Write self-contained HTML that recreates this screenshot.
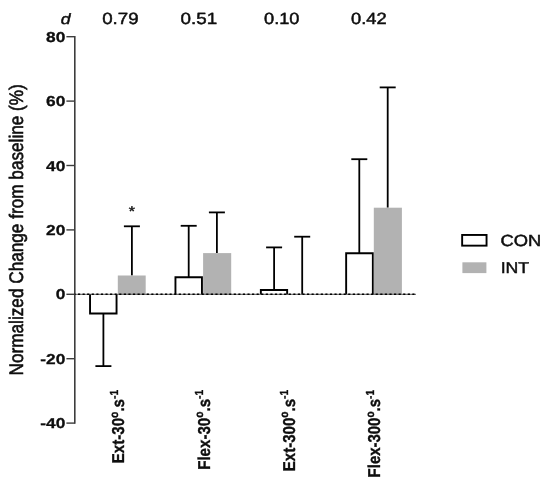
<!DOCTYPE html>
<html lang="en"><head><meta charset="utf-8"><title>Normalized Change from baseline</title>
<style>
html,body{margin:0;padding:0;background:#fff;}
body{width:550px;height:487px;overflow:hidden;}
svg{display:block;}
svg text{font-family:"Liberation Sans",Arial,Helvetica,sans-serif;white-space:pre;}
</style></head><body>
<svg width="550" height="487" viewBox="0 0 550 487" font-family="Liberation Sans, Arial, Helvetica, sans-serif">
<defs><filter id="soft" x="0" y="0" width="550" height="487" filterUnits="userSpaceOnUse"><feGaussianBlur stdDeviation="0.4"/></filter></defs>
<rect width="550" height="487" fill="#fff"/>
<g filter="url(#soft)">
<g shape-rendering="geometricPrecision">
<line x1="74.8" y1="36.10" x2="74.8" y2="423.70" stroke="#3c3c3c" stroke-width="1.6"/>
<line x1="66.4" y1="36.70" x2="74.8" y2="36.70" stroke="#3c3c3c" stroke-width="1.4"/>
<line x1="66.4" y1="101.10" x2="74.8" y2="101.10" stroke="#3c3c3c" stroke-width="1.4"/>
<line x1="66.4" y1="165.50" x2="74.8" y2="165.50" stroke="#3c3c3c" stroke-width="1.4"/>
<line x1="66.4" y1="229.90" x2="74.8" y2="229.90" stroke="#3c3c3c" stroke-width="1.4"/>
<line x1="66.4" y1="294.30" x2="74.8" y2="294.30" stroke="#3c3c3c" stroke-width="1.4"/>
<line x1="66.4" y1="358.70" x2="74.8" y2="358.70" stroke="#3c3c3c" stroke-width="1.4"/>
<line x1="66.4" y1="423.10" x2="74.8" y2="423.10" stroke="#3c3c3c" stroke-width="1.4"/>
<line x1="103.4" y1="313.5" x2="103.4" y2="366.09999999999997" stroke="#000" stroke-width="1.8"/>
<line x1="95.40" y1="366.09999999999997" x2="111.40" y2="366.09999999999997" stroke="#000" stroke-width="1.8"/>
<line x1="131.9" y1="275.5" x2="131.9" y2="226.29999999999998" stroke="#000" stroke-width="1.8"/>
<line x1="123.90" y1="226.29999999999998" x2="139.90" y2="226.29999999999998" stroke="#000" stroke-width="1.8"/>
<path d="M90.05 294.3 V313.50 H116.55 V294.3" fill="#fff" stroke="#000" stroke-width="1.9" stroke-linejoin="miter"/>
<rect x="117.8" y="275.5" width="27.90" height="18.80" fill="#b2b2b2"/>
<line x1="188.7" y1="277.2" x2="188.7" y2="225.79999999999998" stroke="#000" stroke-width="1.8"/>
<line x1="180.70" y1="225.79999999999998" x2="196.70" y2="225.79999999999998" stroke="#000" stroke-width="1.8"/>
<line x1="216.9" y1="253.1" x2="216.9" y2="212.39999999999998" stroke="#000" stroke-width="1.8"/>
<line x1="208.90" y1="212.39999999999998" x2="224.90" y2="212.39999999999998" stroke="#000" stroke-width="1.8"/>
<path d="M175.45 294.3 V277.20 H201.95 V294.3" fill="#fff" stroke="#000" stroke-width="1.9" stroke-linejoin="miter"/>
<rect x="203.1" y="253.1" width="28.10" height="41.20" fill="#b2b2b2"/>
<line x1="274.1" y1="290.0" x2="274.1" y2="247.39999999999998" stroke="#000" stroke-width="1.8"/>
<line x1="266.10" y1="247.39999999999998" x2="282.10" y2="247.39999999999998" stroke="#000" stroke-width="1.8"/>
<line x1="302.2" y1="294.3" x2="302.2" y2="236.7" stroke="#000" stroke-width="1.8"/>
<line x1="294.20" y1="236.7" x2="310.20" y2="236.7" stroke="#000" stroke-width="1.8"/>
<path d="M260.85 294.3 V290.00 H287.15 V294.3" fill="#fff" stroke="#000" stroke-width="1.9" stroke-linejoin="miter"/>
<line x1="359.3" y1="253.3" x2="359.3" y2="159.2" stroke="#000" stroke-width="1.8"/>
<line x1="351.30" y1="159.2" x2="367.30" y2="159.2" stroke="#000" stroke-width="1.8"/>
<line x1="387.7" y1="207.7" x2="387.7" y2="87.4" stroke="#000" stroke-width="1.8"/>
<line x1="379.70" y1="87.4" x2="395.70" y2="87.4" stroke="#000" stroke-width="1.8"/>
<path d="M346.15 294.3 V253.30 H372.85 V294.3" fill="#fff" stroke="#000" stroke-width="1.9" stroke-linejoin="miter"/>
<rect x="373.8" y="207.7" width="28.10" height="86.60" fill="#b2b2b2"/>
<line x1="74.8" y1="294.3" x2="416" y2="294.3" stroke="#444" stroke-width="0.9"/>
<line x1="74.8" y1="294.3" x2="416" y2="294.3" stroke="#000" stroke-width="1.6" stroke-dasharray="2.2 2.38" stroke-dashoffset="1.4"/>
<rect x="462.15" y="234.95" width="24.40" height="10.70" fill="#fff" stroke="#000" stroke-width="1.9"/>
<rect x="462.4" y="262.3" width="24.00" height="10.80" fill="#b2b2b2"/>
</g>
<g text-rendering="geometricPrecision">
<text transform="matrix(1.1028 0 0 0.9210 60.72 24.41)" font-size="16" font-style="italic" font-weight="normal" fill="#0a0a0a" stroke="#0a0a0a" stroke-width="0.45">d</text>
<text transform="matrix(1.1695 0 0 1.0128 102.20 23.79)" font-size="16" font-style="normal" font-weight="normal" fill="#0a0a0a" stroke="#0a0a0a" stroke-width="0.45">0.79</text>
<text transform="matrix(1.1750 0 0 1.0128 180.50 23.79)" font-size="16" font-style="normal" font-weight="normal" fill="#0a0a0a" stroke="#0a0a0a" stroke-width="0.45">0.51</text>
<text transform="matrix(1.1365 0 0 1.0128 264.02 23.79)" font-size="16" font-style="normal" font-weight="normal" fill="#0a0a0a" stroke="#0a0a0a" stroke-width="0.45">0.10</text>
<text transform="matrix(1.1426 0 0 1.0128 351.02 23.79)" font-size="16" font-style="normal" font-weight="normal" fill="#0a0a0a" stroke="#0a0a0a" stroke-width="0.45">0.42</text>
<text transform="matrix(1.0813 0 0 0.8952 46.05 41.84)" font-size="16" font-style="normal" font-weight="bold" fill="#0a0a0a" stroke="#0a0a0a" stroke-width="0.3">80</text>
<text transform="matrix(1.0813 0 0 0.8952 46.05 106.24)" font-size="16" font-style="normal" font-weight="bold" fill="#0a0a0a" stroke="#0a0a0a" stroke-width="0.3">60</text>
<text transform="matrix(1.0813 0 0 0.8952 46.05 170.64)" font-size="16" font-style="normal" font-weight="bold" fill="#0a0a0a" stroke="#0a0a0a" stroke-width="0.3">40</text>
<text transform="matrix(1.0813 0 0 0.8952 46.05 235.04)" font-size="16" font-style="normal" font-weight="bold" fill="#0a0a0a" stroke="#0a0a0a" stroke-width="0.3">20</text>
<text transform="matrix(1.0813 0 0 0.8952 55.74 299.44)" font-size="16" font-style="normal" font-weight="bold" fill="#0a0a0a" stroke="#0a0a0a" stroke-width="0.3">0</text>
<text transform="matrix(1.0813 0 0 0.8952 40.35 363.84)" font-size="16" font-style="normal" font-weight="bold" fill="#0a0a0a" stroke="#0a0a0a" stroke-width="0.3">-20</text>
<text transform="matrix(1.0813 0 0 0.8952 40.35 428.24)" font-size="16" font-style="normal" font-weight="bold" fill="#0a0a0a" stroke="#0a0a0a" stroke-width="0.3">-40</text>
<text transform="matrix(0 -1.0738 1.2250 0 23.40 375.43)" font-size="16" font-weight="normal" fill="#0a0a0a" stroke="#0a0a0a" stroke-width="0.45">Normalized Change from baseline (%)</text>
<text transform="matrix(0 -0.9430 1.0750 0 124.10 463.19)" font-size="16" font-weight="bold" fill="#0a0a0a" stroke="#0a0a0a" stroke-width="0.3">Ext-30<tspan dy="-5.92" font-size="10.88">o</tspan><tspan dy="5.92">.s</tspan><tspan dy="-5.92" font-size="10.88">-1</tspan></text>
<text transform="matrix(0 -0.9425 1.0750 0 209.60 469.79)" font-size="16" font-weight="bold" fill="#0a0a0a" stroke="#0a0a0a" stroke-width="0.3">Flex-30<tspan dy="-5.92" font-size="10.88">o</tspan><tspan dy="5.92">.s</tspan><tspan dy="-5.92" font-size="10.88">-1</tspan></text>
<text transform="matrix(0 -0.9395 1.0750 0 294.80 471.19)" font-size="16" font-weight="bold" fill="#0a0a0a" stroke="#0a0a0a" stroke-width="0.3">Ext-300<tspan dy="-5.92" font-size="10.88">o</tspan><tspan dy="5.92">.s</tspan><tspan dy="-5.92" font-size="10.88">-1</tspan></text>
<text transform="matrix(0 -0.9334 1.0750 0 380.30 477.38)" font-size="16" font-weight="bold" fill="#0a0a0a" stroke="#0a0a0a" stroke-width="0.3">Flex-300<tspan dy="-5.92" font-size="10.88">o</tspan><tspan dy="5.92">.s</tspan><tspan dy="-5.92" font-size="10.88">-1</tspan></text>
<text transform="matrix(1.1455 0 0 1.0040 500.53 245.89)" font-size="16" font-style="normal" font-weight="normal" fill="#0a0a0a" stroke="#0a0a0a" stroke-width="0.45">CON</text>
<text transform="matrix(1.1044 0 0 0.9878 500.66 273.05)" font-size="16" font-style="normal" font-weight="normal" fill="#0a0a0a" stroke="#0a0a0a" stroke-width="0.45">INT</text>
<text transform="matrix(1.0009 0 0 0.8759 128.63 216.32)" font-size="16" font-style="normal" font-weight="normal" fill="#0a0a0a" stroke="#0a0a0a" stroke-width="0.45">*</text>
</g>
</g>
</svg>
</body></html>
